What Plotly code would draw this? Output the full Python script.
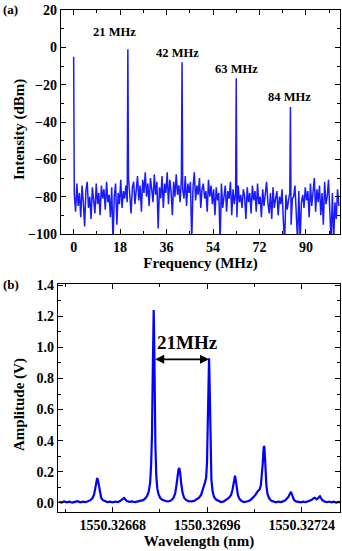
import plotly.graph_objects as go

# (a) RF spectrum: noise floor sampled every 0.5 MHz starting at 0.25 MHz
noise_start = 0.25
noise_step = 0.5
noise_db = [
    -79, -88, -73, -85, -78, -91, -74, -83, -96, -77,
    -72, -86, -80, -92, -75, -82, -89, -73, -84, -78,
    -90, -74, -81, -76, -87, -72, -83, -79, -91, -75,
    -104, -80, -73, -95, -78, -84, -71, -86, -77, -81,
    -74, -83, -70, -79, -89, -75, -72, -84, -77, -69,
    -82, -74, -88, -71, -78, -67, -80, -73, -85, -70,
    -76, -83, -68, -79, -72, -97, -75, -81, -69, -86,
    -73, -78, -67, -84, -71, -77, -90, -72, -80, -68,
    -79, -74, -83, -70, -76, -81, -69, -85, -73, -78,
    -72, -104, -75, -67, -82, -74, -79, -70, -86, -76,
    -73, -81, -77, -88, -71, -80, -74, -84, -76, -90,
    -75, -82, -78, -104, -73, -86, -79, -74, -88, -77,
    -81, -72, -90, -76, -84, -78, -91, -74, -83, -79,
    -86, -76, -80, -92, -75, -83, -78, -89, -74, -82,
    -77, -88, -73, -84, -80, -91, -76, -85, -79, -72,
    -83, -89, -78, -92, -75, -86, -81, -77, -90, -80,
    -84, -76, -93, -104, -79, -87, -82, -78, -95, -81,
    -80, -74, -88, -104, -77, -104, -83, -79, -86, -75,
    -82, -77, -91, -73, -85, -79, -70, -88, -76, -83,
    -74, -90, -78, -95, -72, -84, -80, -71, -87, -104,
    -78, -104, -83, -92, -76, -85,
]
peak_freq = [0, 21, 42, 63, 84]
peak_db = [-5, -1, -8, -16.5, -32]
peak_labels = ["21 MHz", "42 MHz", "63 MHz", "84 MHz"]

# (b) optical beat trace, offsets in fm from 1550.32668 nm
wl_ref = 1550.32668
wl_ticks = ["1550.32668", "1550.32696", "1550.32724"]
wl_fm = [
    -160, -152, -144, -136, -128, -120, -112, -104, -96, -88, -80, -72, -66, -60,
    -55, -51, -48, -46, -44, -41, -38, -34, -29, -23, -16, -8, 0, 8, 16, 22, 27,
    31, 34, 37, 42, 50, 58, 66, 74, 82, 90, 96, 102, 107, 111, 114, 116.5, 118.5,
    120, 121.5, 123, 124.5, 126.5, 129, 132, 136, 141, 147, 154, 161, 168, 174,
    180, 185, 189, 192.5, 195, 197.3, 200, 203, 207, 212, 218, 225, 233, 241, 248,
    255, 262, 267, 271, 274, 277, 279.5, 281.5, 283, 284.5, 285.5, 286.5, 288, 290,
    292.5, 296, 300, 306, 313, 321, 329, 336, 342, 347, 351, 355, 358, 360.5,
    362.4, 364.5, 367, 371, 376, 382, 389, 396, 403, 410, 417, 423, 428, 432, 436,
    439, 442, 444.5, 446.5, 448, 449.5, 451, 453, 455.5, 459, 464, 470, 477, 484,
    491, 498, 505, 512, 517, 521, 524, 526.5, 528.3, 530.5, 533, 537, 543, 550,
    557, 564, 571, 578, 585, 591, 595, 598, 601, 604, 608, 611, 614, 617, 621,
    627, 634, 641, 648, 655, 662, 669, 675,
]
amp_v = [
    0.008, 0.003, 0.010, 0.004, 0.009, 0.002, 0.007, 0.011, 0.004, 0.008, 0.005,
    0.012, 0.018, 0.030, 0.055, 0.100, 0.145, 0.160, 0.150, 0.105, 0.060, 0.032,
    0.018, 0.010, 0.006, 0.009, 0.004, 0.008, 0.006, 0.012, 0.018, 0.028, 0.032,
    0.022, 0.012, 0.007, 0.010, 0.005, 0.009, 0.012, 0.018, 0.028, 0.045, 0.075,
    0.13, 0.25, 0.45, 0.80, 1.10, 1.24, 1.05, 0.70, 0.38, 0.18, 0.095, 0.055,
    0.032, 0.020, 0.013, 0.010, 0.012, 0.018, 0.032, 0.060, 0.115, 0.180, 0.215,
    0.225, 0.195, 0.125, 0.065, 0.032, 0.018, 0.012, 0.010, 0.013, 0.020, 0.032,
    0.052, 0.080, 0.115, 0.135, 0.165, 0.26, 0.48, 0.72, 0.90, 0.93, 0.85, 0.58,
    0.32, 0.15, 0.075, 0.040, 0.022, 0.012, 0.006, 0.010, 0.018, 0.030, 0.040,
    0.052, 0.085, 0.130, 0.165, 0.175, 0.150, 0.095, 0.050, 0.025, 0.012, 0.006,
    0.009, 0.013, 0.022, 0.035, 0.052, 0.070, 0.080, 0.090, 0.115, 0.17, 0.25,
    0.33, 0.365, 0.36, 0.30, 0.20, 0.11, 0.055, 0.028, 0.014, 0.008, 0.004,
    0.009, 0.006, 0.010, 0.018, 0.030, 0.040, 0.055, 0.068, 0.072, 0.058, 0.038,
    0.020, 0.010, 0.006, 0.004, 0.008, 0.005, 0.010, 0.015, 0.022, 0.030, 0.034,
    0.030, 0.024, 0.030, 0.040, 0.043, 0.032, 0.018, 0.010, 0.005, 0.009, 0.004,
    0.008, 0.003, 0.007, 0.005,
]

# merge noise floor and peaks
pts = [(noise_start + i * noise_step, v) for i, v in enumerate(noise_db)]
pts += list(zip(peak_freq, peak_db))
pts.sort()
freq = [p[0] for p in pts]
db = [p[1] for p in pts]

wavelength = [wl_ref + f * 1e-6 for f in wl_fm]

FONT = "Liberation Serif, Times New Roman, serif"
W, H = 342, 551

fig = go.Figure()
fig.add_trace(go.Scatter(x=freq, y=db, mode="lines", line=dict(color="#1a1aff", width=1.5),
                         xaxis="x", yaxis="y", showlegend=False))
fig.add_trace(go.Scatter(x=wavelength, y=amp_v, mode="lines", line=dict(color="#0000ff", width=2.2),
                         xaxis="x2", yaxis="y2", showlegend=False))

axis_common = dict(showline=True, linecolor="black", linewidth=1.2, mirror="allticks",
                   ticks="inside", ticklen=5, tickwidth=1, tickcolor="black",
                   showgrid=False, zeroline=False, automargin=False,
                   tickfont=dict(family=FONT, size=14, color="black", weight="bold"))
title_font = dict(family=FONT, size=15, color="black", weight="bold")

fig.update_layout(
    width=W, height=H, margin=dict(l=0, r=0, t=0, b=0),
    plot_bgcolor="white", paper_bgcolor="white",
    xaxis=dict(axis_common, domain=[61 / W, 340 / W], range=[-4.9, 103.2],
               tickmode="linear", tick0=0, dtick=18,
               minor=dict(ticks="inside", ticklen=3, dtick=9, tick0=0, tickcolor="black"),
               title=dict(text="Frequency (MHz)", font=title_font, standoff=0), anchor="y"),
    yaxis=dict(axis_common, domain=[(H - 234) / H, (H - 10) / H], range=[-100, 20],
               tickmode="linear", tick0=0, dtick=20,
               minor=dict(ticks="inside", ticklen=3, dtick=10, tickcolor="black"),
               anchor="x"),
    xaxis2=dict(axis_common, domain=[58 / W, 340 / W], range=[1550.326518, 1550.3273535],
                tickmode="array", tickvals=[float(t) for t in wl_ticks], ticktext=wl_ticks,
                minor=dict(ticks="inside", ticklen=3, dtick=0.00014, tick0=wl_ref, tickcolor="black"),
                title=dict(text="Wavelength (nm)", font=title_font, standoff=2), anchor="y2"),
    yaxis2=dict(axis_common, domain=[(H - 512) / H, (H - 283.5) / H], range=[-0.058, 1.41],
                tickmode="linear", tick0=0, dtick=0.2, tickformat=".1f",
                minor=dict(ticks="inside", ticklen=3, dtick=0.1, tickcolor="black"),
                anchor="x2"),
)

# y titles placed by hand, like the reference
for txt, cy in [("Intensity (dBm)", 130), ("Amplitude (V)", 405)]:
    fig.add_annotation(x=19 / W, y=(H - cy) / H, xref="paper", yref="paper", text=txt,
                       textangle=-90, showarrow=False, xanchor="center", yanchor="middle",
                       font=title_font)

label_pos = [(16, 8.2), (40.3, -3.2), (63, -11.8), (83.6, -26.4)]
for txt, (lx, ly) in zip(peak_labels, label_pos):
    fig.add_annotation(x=lx, y=ly, xref="x", yref="y", text=txt, showarrow=False,
                       font=dict(family=FONT, size=12.5, color="black", weight="bold"))

# double arrow between the two main peaks
fig.add_annotation(x=wl_ref + 285.3e-6, y=0.923, ax=wl_ref + 121.5e-6, ay=0.923,
                   xref="x2", yref="y2", axref="x2", ayref="y2", text="",
                   showarrow=True, arrowhead=2, startarrowhead=2, arrowside="end+start",
                   arrowwidth=1.8, arrowsize=1, startarrowsize=1, arrowcolor="black")
fig.add_annotation(x=wl_ref + 223e-6, y=1.03, xref="x2", yref="y2", text="21MHz",
                   showarrow=False, font=dict(family=FONT, size=19, color="black", weight="bold"))

for txt, py in [("(a)", 10), ("(b)", 285)]:
    fig.add_annotation(x=1 / W, y=(H - py) / H, xref="paper", yref="paper", text=txt,
                       showarrow=False, xanchor="left", yanchor="middle",
                       font=dict(family=FONT, size=13, color="black", weight="bold"))

# drop the default page margin so the figure sits at the window's corner
fig.write_html("out.html", config={"displayModeBar": False},
               post_script="document.body.style.margin='0';")
